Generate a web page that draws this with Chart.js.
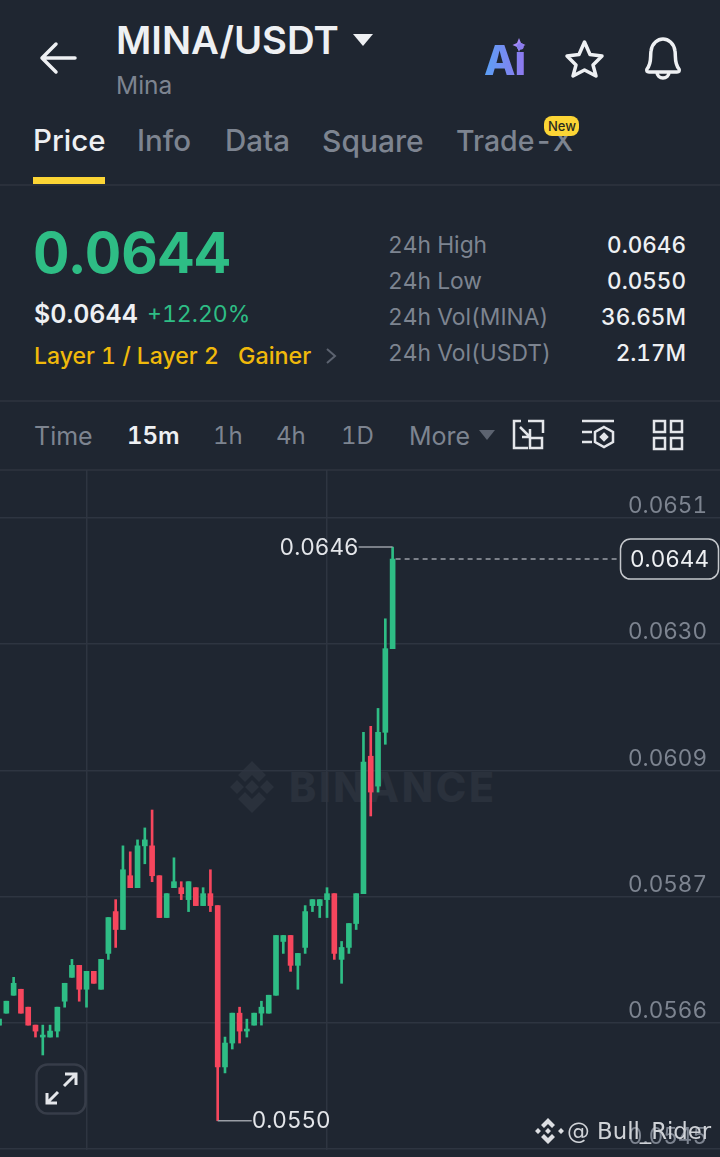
<!DOCTYPE html>
<html>
<head>
<meta charset="utf-8">
<script src="https://cdn.jsdelivr.net/npm/chart.js@4"></script>
<style>
  html, body { margin: 0; padding: 0; background: #1f2631; }
  #page { position: relative; width: 720px; height: 1157px; overflow: hidden; background: #1f2631; font-family: Inter, "Noto Sans", sans-serif; font-variant-numeric: tabular-nums; }
  .t { position: absolute; white-space: nowrap; transform: translateY(-50%); line-height: 1; }
  .r { transform: translate(-100%, -50%); }
  .grey { color: #7d8490; }
  .white { color: #eef0f3; }
  .line { position: absolute; left: 0; width: 720px; height: 2px; background: #2a303b; }
  svg { position: absolute; overflow: visible; }
  #myChart { position: absolute; left: 0; top: 470px; }
</style>
</head>
<body>
<div id="page">
  <!-- top bar -->
  <svg style="left:0;top:0" width="720" height="100" fill="none" stroke="#eef0f3" stroke-width="3.5">
    <path d="M42 58H75M56 44L42 58L56 72" stroke-linecap="round" stroke-linejoin="round"/>
    <path d="M353 34H373L363 46Z" fill="#eef0f3" stroke="none"/>
    <path d="M584.500 42L590 54.500L602 56L593 65L596 76L584.500 70L573 76L576 65L567 56L579 54.500Z" stroke-linejoin="round"/>
    <path d="M647 69C652 63 650 57 651 51C652 43 658 39 663 39C668 39 674 43 675 51C676 57 674 63 679 69C680 71 679 72 677 72H649C647 72 646 71 647 69Z" stroke-linejoin="round"/>
    <path d="M657 72C657 80 669 80 669 72"/>
    <path d="M519 38L521 43L525.500 45L521 47L519 52L517 47L512.500 45L517 43Z" fill="#a78bfa" stroke="none"/>
  </svg>
  <span class="t white" style="left:116px;top:40px;font-size:38.300px;font-weight:600">MINA/USDT</span>
  <span class="t grey" style="left:116px;top:85px;font-size:24.500px">Mina</span>
  <span class="t" style="left:484px;top:60px;font-size:41px;font-weight:800;letter-spacing:-1px;background:linear-gradient(90deg,#5aa0f5,#8f78ee);-webkit-background-clip:text;background-clip:text;color:transparent">Ai</span>

  <!-- tabs -->
  <span class="t white" style="left:33px;top:141px;font-size:29.500px;font-weight:500">Price</span>
  <span class="t grey" style="left:137px;top:141px;font-size:29.500px;font-weight:500">Info</span>
  <span class="t grey" style="left:225px;top:141px;font-size:29.500px;font-weight:500">Data</span>
  <span class="t grey" style="left:322px;top:141px;font-size:30px;font-weight:500">Square</span>
  <span class="t grey" style="left:456px;top:141px;font-size:28.500px;font-weight:500">Trade-X</span>
  <div style="position:absolute;left:544px;top:116px;width:35px;height:20px;border-radius:8px;background:#fcd535"></div>
  <span class="t" style="left:548px;top:126px;font-size:13px;font-weight:500;color:#2a2a20">New</span>
  <div style="position:absolute;left:33px;top:177px;width:72px;height:7px;background:#fcd535"></div>
  <div class="line" style="top:184px"></div>

  <!-- price block -->
  <span class="t" style="left:33px;top:253px;font-size:56.500px;font-weight:700;color:#2ebd85">0.0644</span>
  <span class="t white" style="left:34px;top:314px;font-size:25px;font-weight:600">$0.0644</span>
  <span class="t" style="left:147px;top:314px;font-size:23px;color:#2ebd85">+12.20%</span>
  <span class="t" style="left:34px;top:356px;font-size:23px;font-weight:500;color:#f0b90b">Layer 1 / Layer 2</span>
  <span class="t" style="left:238px;top:356px;font-size:23.300px;font-weight:500;color:#f0b90b">Gainer</span>
  <svg style="left:0;top:0" width="720" height="400" fill="none" stroke="#5c6370" stroke-width="2"><path d="M327 349L335 356L327 363"/></svg>

  <span class="t grey" style="left:388px;top:245px;font-size:22.800px">24h High</span>
  <span class="t grey" style="left:388px;top:281px;font-size:22.800px">24h Low</span>
  <span class="t grey" style="left:388px;top:317px;font-size:22.800px">24h Vol(MINA)</span>
  <span class="t grey" style="left:388px;top:353px;font-size:22.800px">24h Vol(USDT)</span>
  <span class="t r white" style="left:686px;top:245px;font-size:22.500px;font-weight:500">0.0646</span>
  <span class="t r white" style="left:686px;top:281px;font-size:22.500px;font-weight:500">0.0550</span>
  <span class="t r white" style="left:686px;top:317px;font-size:22.500px;font-weight:500">36.65M</span>
  <span class="t r white" style="left:686px;top:353px;font-size:22.500px;font-weight:500">2.17M</span>
  <div class="line" style="top:400px"></div>

  <!-- interval row -->
  <span class="t grey" style="left:34px;top:436px;font-size:25px">Time</span>
  <span class="t white" style="left:127px;top:436px;font-size:24px;font-weight:600">15m</span>
  <span class="t grey" style="left:213px;top:436px;font-size:24px">1h</span>
  <span class="t grey" style="left:276px;top:436px;font-size:24px">4h</span>
  <span class="t grey" style="left:341px;top:436px;font-size:24px">1D</span>
  <span class="t grey" style="left:409px;top:436px;font-size:25px">More</span>
  <svg style="left:0;top:400px" width="720" height="70" fill="none" stroke="#e4e6ea" stroke-width="2.500">
    <path d="M479 30H495L487 40Z" fill="#5c6370" stroke="none"/>
    <path d="M528 21H543V33M528 48H514V21H521"/>
    <rect x="530" y="38" width="12" height="10"/>
    <path d="M520 27L530 37M530 29V37H522"/>
    <path d="M582 21H614M582 32H592M582 42H592"/>
    <path d="M604 27L613 32V42L604 47L595 42V32Z"/>
    <path d="M604 34L607 37L604 40L601 37Z" fill="#e4e6ea"/>
    <rect x="654" y="21" width="11" height="11"/><rect x="671" y="21" width="11" height="11"/>
    <rect x="654" y="38" width="11" height="11"/><rect x="671" y="38" width="11" height="11"/>
  </svg>
  <div class="line" style="top:469px"></div>

  <!-- faint logo behind the candles -->
  <svg style="left:0;top:0" width="720" height="1157" fill="#2a313c">
    <path d="M252 761L266 775L259 782L252 775L245 782L238 775ZM230 787L237 780L244 787L237 794ZM252 780L259 787L252 794L245 787ZM267 780L274 787L267 794L260 787ZM238 799L245 792L252 799L259 792L266 799L252 813Z"/>
  </svg>
  <span class="t" style="left:289px;top:787px;font-size:41px;font-weight:800;letter-spacing:2.700px;color:#2a313c">BINANCE</span>

  <canvas id="myChart" width="720" height="680"></canvas>

  <!-- expand button -->
  <svg style="left:0;top:0" width="720" height="1157" fill="none">
    <rect x="36.500" y="1064.500" width="49" height="49" rx="11" stroke="#373d49" stroke-width="2.500"/>
    <path d="M48 1102L58 1092M47 1093V1103H57M64 1086L75 1075M65 1074H76V1085" stroke="#e4e6ea" stroke-width="3"/>
  </svg>

  <!-- watermark -->
  <svg style="left:0;top:0" width="720" height="1157" fill="#dcdee2">
    <path d="M548 1118L555 1125L552 1128L548 1124L544 1128L541 1125ZM535 1131L538 1128L541 1131L538 1134ZM548 1128L551 1131L548 1134L545 1131ZM558 1131L561 1128L564 1131L561 1134ZM541 1137L544 1134L548 1138L552 1134L555 1137L548 1144Z"/>
  </svg>
  <span class="t" style="left:567px;top:1131px;font-family:'DejaVu Sans';font-size:22.800px;color:#cfd2d7">@ Bull_Rider</span>
</div>

<script>
// 15m candles, oldest first
const candleOpen = [0.0566,0.0568,0.0571,0.0572,0.0569,0.0566,0.0564,0.0564,0.0565,0.0570,
  0.0574,0.0576,0.0572,0.0575,0.0572,0.0578,0.0585,0.0582,0.0591,0.0589,
  0.0596,0.0596,0.0591,0.0584,0.0589,0.0589,0.0587,0.0589,0.0586,0.0588,
  0.0586,0.0559,0.0563,0.0568,0.0565,0.0566,0.0568,0.0568,0.0571,0.0580,
  0.0581,0.0576,0.0579,0.0586,0.0586,0.0587,0.0588,0.0577,0.0579,0.0583,
  0.0588,0.0611,0.0606,0.0615,0.0629];
const candleClose = [0.0567,0.0570,0.0573,0.0568,0.0566,0.0565,0.0564,0.0565,0.0569,0.0573,
  0.0576,0.0572,0.0575,0.0573,0.0577,0.0584,0.0582,0.0592,0.0589,0.0596,
  0.0597,0.0591,0.0584,0.0588,0.0590,0.0588,0.0590,0.0586,0.0588,0.0586,
  0.0559,0.0563,0.0568,0.0565,0.0565,0.0568,0.0569,0.0571,0.0581,0.0581,
  0.0576,0.0578,0.0585,0.0587,0.0587,0.0588,0.0578,0.0579,0.0583,0.0588,
  0.0610,0.0605,0.0615,0.0629,0.0644];
const candleHigh = [0.0567,0.0570,0.0574,0.0572,0.0569,0.0566,0.0566,0.0566,0.0569,0.0573,
  0.0577,0.0576,0.0575,0.0575,0.0577,0.0584,0.0587,0.0596,0.0595,0.0597,
  0.0599,0.0602,0.0591,0.0588,0.0594,0.0590,0.0590,0.0589,0.0589,0.0592,
  0.0586,0.0564,0.0568,0.0569,0.0567,0.0568,0.0570,0.0571,0.0581,0.0581,
  0.0581,0.0578,0.0586,0.0587,0.0587,0.0589,0.0588,0.0580,0.0583,0.0588,
  0.0615,0.0616,0.0619,0.0634,0.0646];
const candleLow = [0.0566,0.0568,0.0571,0.0568,0.0566,0.0564,0.0561,0.0564,0.0564,0.0569,
  0.0574,0.0570,0.0569,0.0573,0.0572,0.0577,0.0579,0.0582,0.0589,0.0589,
  0.0593,0.0590,0.0584,0.0584,0.0589,0.0587,0.0585,0.0586,0.0586,0.0585,
  0.0550,0.0558,0.0562,0.0563,0.0564,0.0566,0.0566,0.0568,0.0571,0.0578,
  0.0575,0.0572,0.0578,0.0585,0.0584,0.0584,0.0577,0.0573,0.0578,0.0582,
  0.0588,0.0601,0.0605,0.0613,0.0629];

// axis gridlines sit on unrounded prices, the labels show them rounded
const yTickValues = [0.065085, 0.062975, 0.060855, 0.058745, 0.056635, 0.054525];
const yTickLabels = ['0.0651', '0.0630', '0.0609', '0.0587', '0.0566', '0.0545'];
const xGridCandles = [12, 45];

const highPrice = 0.0646;
const highIndex = 54;
const lowPrice = 0.0550;
const lowIndex = 30;
const lastPrice = 0.0644;

const GREEN = '#2ebd85';
const RED = '#f6465d';
const GRID = '#2e3541';

const candleColors = candleOpen.map((o, i) => candleClose[i] >= o ? GREEN : RED);
const wicks = candleOpen.map((o, i) => ({ x: i, y: [candleLow[i], candleHigh[i]] }));
const bodies = candleOpen.map((o, i) => ({ x: i, y: [Math.min(o, candleClose[i]), Math.max(o, candleClose[i])] }));

// high / low callouts and the last price tag
const priceMarks = {
  id: 'priceMarks',
  afterDatasetsDraw(chart) {
    const ctx = chart.ctx;
    const x = chart.scales.x;
    const y = chart.scales.y;
    ctx.save();
    ctx.font = '22.5px Inter';
    ctx.textBaseline = 'middle';

    ctx.strokeStyle = '#9a9ea6';
    ctx.lineWidth = 1.5;
    let py = y.getPixelForValue(highPrice);
    let px = x.getPixelForValue(highIndex);
    ctx.beginPath();
    ctx.moveTo(px, py);
    ctx.lineTo(px - 34, py);
    ctx.stroke();
    ctx.fillStyle = '#e4e6ea';
    ctx.textAlign = 'right';
    ctx.fillText(highPrice.toFixed(4), px - 34, py + 1);

    py = y.getPixelForValue(lowPrice);
    px = x.getPixelForValue(lowIndex);
    ctx.beginPath();
    ctx.moveTo(px, py);
    ctx.lineTo(px + 34, py);
    ctx.stroke();
    ctx.textAlign = 'left';
    ctx.fillText(lowPrice.toFixed(4), px + 34, py + 1);

    py = y.getPixelForValue(lastPrice);
    px = x.getPixelForValue(highIndex);
    ctx.setLineDash([5, 4]);
    ctx.beginPath();
    ctx.moveTo(px + 3, py);
    ctx.lineTo(617, py);
    ctx.stroke();
    ctx.setLineDash([]);
    ctx.beginPath();
    ctx.roundRect(620.5, py - 20, 98, 40, 10);
    ctx.strokeStyle = '#c4c7cc';
    ctx.stroke();
    ctx.textAlign = 'center';
    ctx.fillStyle = '#eef0f3';
    ctx.fillText(lastPrice.toFixed(4), 669.5, py + 1);
    ctx.restore();
  }
};

new Chart(document.getElementById('myChart'), {
  type: 'bar',
  data: {
    datasets: [
      { data: bodies, backgroundColor: candleColors, barThickness: 5, minBarLength: 2, grouped: false },
      { data: wicks, backgroundColor: candleColors, barThickness: 2, grouped: false }
    ]
  },
  options: {
    responsive: false,
    animation: false,
    devicePixelRatio: 1,
    layout: { padding: 0 },
    plugins: { legend: { display: false }, tooltip: { enabled: false } },
    scales: {
      x: {
        type: 'linear',
        offset: false,
        min: 0.13,
        max: 98.92,
        afterBuildTicks(scale) { scale.ticks = xGridCandles.map(v => ({ value: v })); },
        grid: { offset: false, color: GRID, lineWidth: 1.5, drawTicks: false },
        border: { display: false },
        ticks: { display: false }
      },
      y: {
        position: 'right',
        min: 0.05451,
        max: 0.06589,
        afterBuildTicks(scale) { scale.ticks = yTickValues.map(v => ({ value: v })); },
        // tick labels hang inside, no room to reserve for them
        afterFit(scale) { scale.paddingTop = 0; scale.paddingBottom = 0; scale.width = 0; },
        grid: { color: GRID, lineWidth: 1.5, drawTicks: false },
        border: { display: false },
        ticks: {
          mirror: true,
          padding: -13,
          labelOffset: -12,
          autoSkip: false,
          color: '#7d8490',
          font: { family: 'Inter', size: 22.5 },
          callback: (v, i) => yTickLabels[i]
        }
      }
    }
  },
  plugins: [priceMarks]
});
</script>
</body>
</html>
